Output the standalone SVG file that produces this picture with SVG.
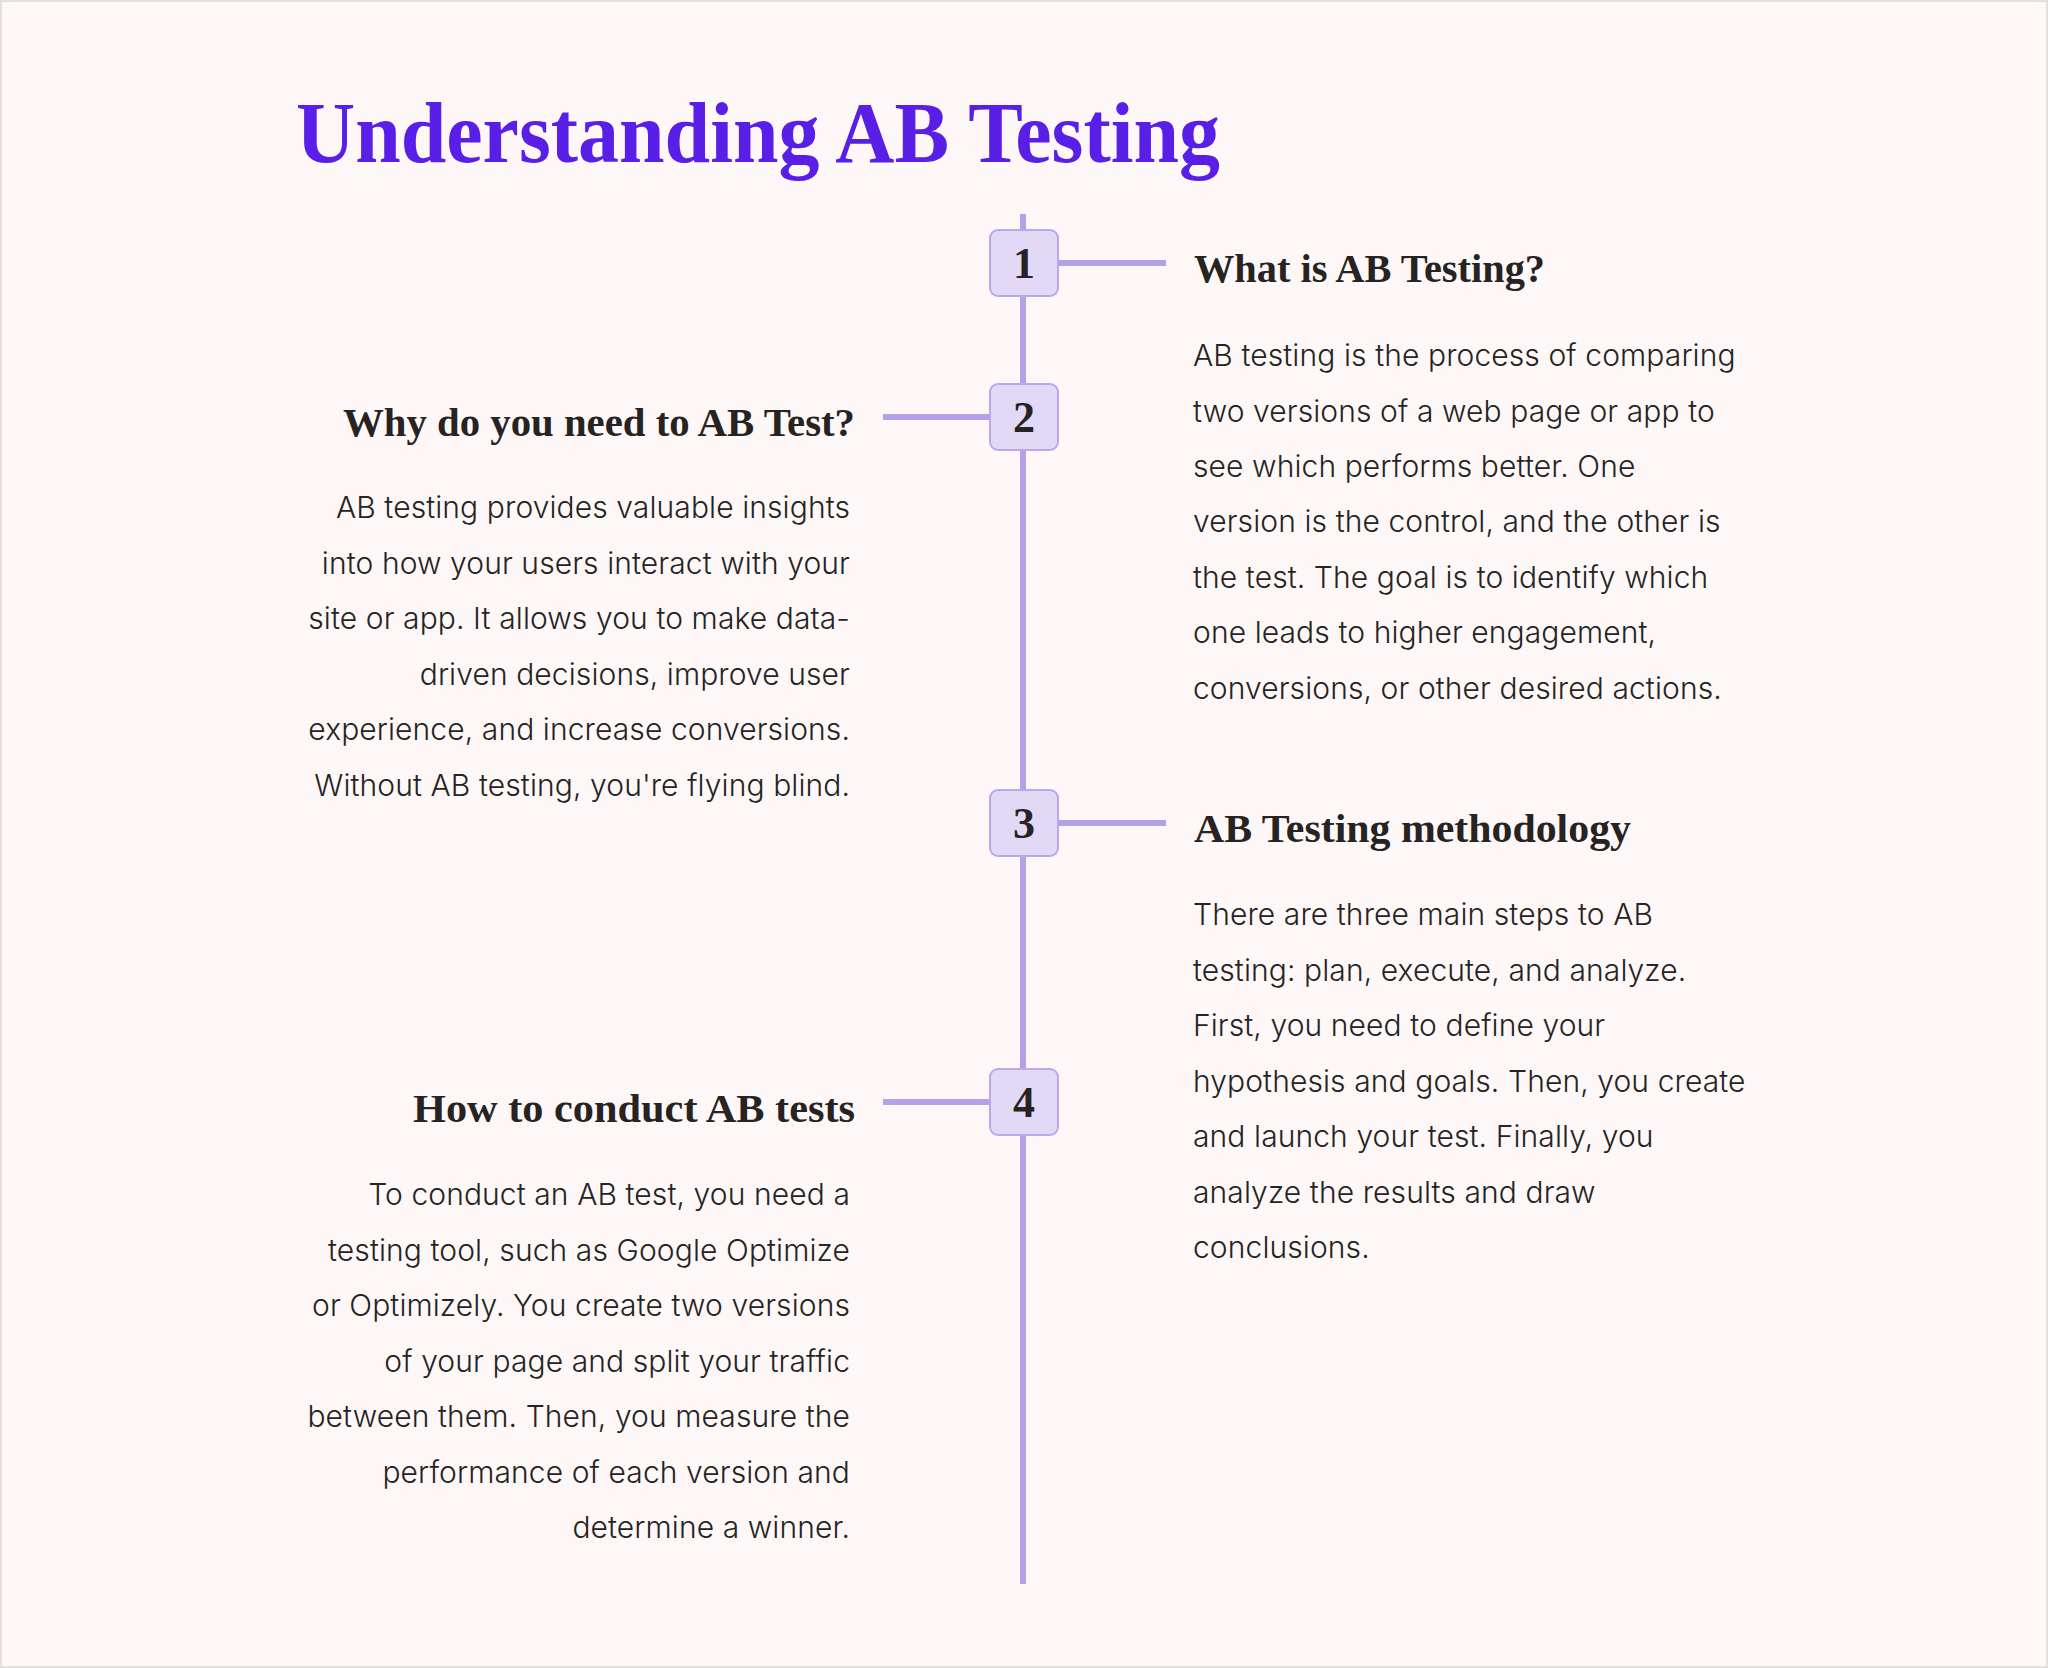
<svg xmlns="http://www.w3.org/2000/svg" width="2048" height="1668" viewBox="0 0 2048 1668">
<style>
.t{font-family:"Liberation Serif",serif;font-weight:bold;fill:#5a1fe6}
.h{font-family:"Liberation Serif",serif;font-weight:bold;font-size:41px;fill:#262322}
.b{font-family:Inter,"Noto Sans",sans-serif;font-weight:300;font-size:30px;fill:#262322;letter-spacing:0.1px}
.r{text-anchor:end}
.box{fill:#e2d9f7;stroke:#b9a8ec;stroke-width:2}
.n{font-family:"Liberation Serif",serif;font-weight:bold;font-size:44px;fill:#262322;text-anchor:middle}
.ln{stroke:#b4a2e8;stroke-width:6;fill:none}
</style>
<rect x="1" y="1" width="2046" height="1666" fill="#fdf8f7" stroke="#e4e0df" stroke-width="2"/>
<text class="t" x="296" y="162" font-size="86" textLength="924" lengthAdjust="spacingAndGlyphs">Understanding AB Testing</text>
<g id="connectors">
<line class="ln" x1="1023" y1="214" x2="1023" y2="1584"/>
<line class="ln" x1="1058" y1="263" x2="1166" y2="263"/>
<line class="ln" x1="883" y1="417" x2="990" y2="417"/>
<line class="ln" x1="1058" y1="823" x2="1166" y2="823"/>
<line class="ln" x1="883" y1="1102" x2="990" y2="1102"/>
</g>
<g id="n1"><rect class="box" x="990" y="230" width="68" height="66" rx="8"/><text class="n" x="1024" y="278">1</text>
<text class="h" x="1194" y="282" textLength="351" lengthAdjust="spacingAndGlyphs">What is AB Testing?</text>
<text class="b" x="1193"><tspan x="1193" y="366">AB testing is the process of comparing</tspan><tspan x="1193" y="422">two versions of a web page or app to</tspan><tspan x="1193" y="477">see which performs better. One</tspan><tspan x="1193" y="532">version is the control, and the other is</tspan><tspan x="1193" y="588">the test. The goal is to identify which</tspan><tspan x="1193" y="643">one leads to higher engagement,</tspan><tspan x="1193" y="699">conversions, or other desired actions.</tspan></text></g>
<g id="n2"><rect class="box" x="990" y="384" width="68" height="66" rx="8"/><text class="n" x="1024" y="432">2</text>
<text class="h r" x="855" y="436" textLength="512" lengthAdjust="spacingAndGlyphs">Why do you need to AB Test?</text>
<text class="b r"><tspan x="850" y="518">AB testing provides valuable insights</tspan><tspan x="850" y="574">into how your users interact with your</tspan><tspan x="850" y="629">site or app. It allows you to make data-</tspan><tspan x="850" y="685">driven decisions, improve user</tspan><tspan x="850" y="740">experience, and increase conversions.</tspan><tspan x="850" y="796">Without AB testing, you're flying blind.</tspan></text></g>
<g id="n3"><rect class="box" x="990" y="790" width="68" height="66" rx="8"/><text class="n" x="1024" y="838">3</text>
<text class="h" x="1194" y="842" textLength="437" lengthAdjust="spacingAndGlyphs">AB Testing methodology</text>
<text class="b"><tspan x="1193" y="925">There are three main steps to AB</tspan><tspan x="1193" y="981">testing: plan, execute, and analyze.</tspan><tspan x="1193" y="1036">First, you need to define your</tspan><tspan x="1193" y="1092">hypothesis and goals. Then, you create</tspan><tspan x="1193" y="1147">and launch your test. Finally, you</tspan><tspan x="1193" y="1203">analyze the results and draw</tspan><tspan x="1193" y="1258">conclusions.</tspan></text></g>
<g id="n4"><rect class="box" x="990" y="1069" width="68" height="66" rx="8"/><text class="n" x="1024" y="1117">4</text>
<text class="h r" x="855" y="1122" textLength="442" lengthAdjust="spacingAndGlyphs">How to conduct AB tests</text>
<text class="b r"><tspan x="850" y="1205">To conduct an AB test, you need a</tspan><tspan x="850" y="1261">testing tool, such as Google Optimize</tspan><tspan x="850" y="1316">or Optimizely. You create two versions</tspan><tspan x="850" y="1372">of your page and split your traffic</tspan><tspan x="850" y="1427">between them. Then, you measure the</tspan><tspan x="850" y="1483">performance of each version and</tspan><tspan x="850" y="1538">determine a winner.</tspan></text></g>
</svg>
